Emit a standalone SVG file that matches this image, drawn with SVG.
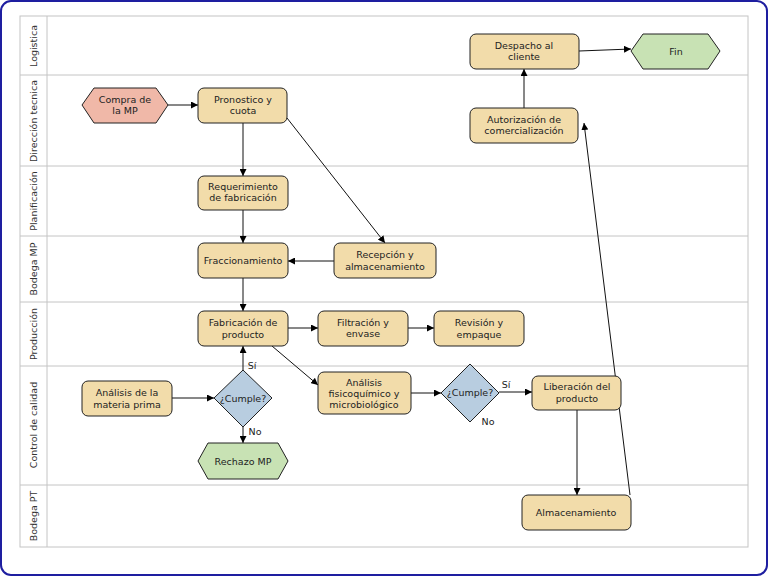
<svg xmlns="http://www.w3.org/2000/svg" width="768" height="576" viewBox="0 0 768 576">
<defs>
<marker id="a" viewBox="0 0 10 10" refX="10" refY="5" markerWidth="7" markerHeight="7" orient="auto"><path d="M0,0L10,5L0,10z" fill="#000"/></marker>
<style>
text{font-family:"DejaVu Sans",sans-serif;font-size:9.5px;fill:#222;text-anchor:middle}
.p{fill:#f2dcaa;stroke:#222;stroke-width:1}
.d{fill:#b8cde0;stroke:#222}
.g{fill:#c8e2b4;stroke:#222}
.lane{fill:none;stroke:#c4c4c4;stroke-width:1}
.c path{fill:none;stroke:#111;stroke-width:1;marker-end:url(#a)}
.lt{font-size:9.5px;fill:#333}
</style>
</defs>
<rect x="1" y="1" width="766" height="574" rx="10" fill="#fff" stroke="#1e1ea0" stroke-width="2"/>
<g id="lanes">
<rect class="lane" x="20" y="16" width="728" height="531"/>
<path class="lane" d="M47,16V547M20,75H748M20,166H748M20,236H748M20,302H748M20,366H748M20,485H748"/>
<text class="lt" transform="translate(37,46) rotate(-90)">Logistica</text>
<text class="lt" transform="translate(37,121) rotate(-90)">Dirección tecnica</text>
<text class="lt" transform="translate(37,201) rotate(-90)">Planificación</text>
<text class="lt" transform="translate(37,269) rotate(-90)">Bodega MP</text>
<text class="lt" transform="translate(37,334) rotate(-90)">Producción</text>
<text class="lt" transform="translate(37,425) rotate(-90)">Control de calidad</text>
<text class="lt" transform="translate(37,516) rotate(-90)">Bodega PT</text>
</g>
<g class="c" id="connectors">
<path d="M168,105H198"/>
<path d="M243,123V176"/>
<path d="M243,210V243"/>
<path d="M287,118L385,243"/>
<path d="M334,261H288"/>
<path d="M243,278V311"/>
<path d="M288,328H318"/>
<path d="M408,328H434"/>
<path d="M172,398H214"/>
<path d="M243,370V346"/>
<path d="M243,427V443"/>
<path d="M272,346L318,385"/>
<path d="M411,393H441"/>
<path d="M499,392H532"/>
<path d="M577,410V495"/>
<path d="M630,495L584,123"/>
<path d="M524,108V69"/>
<path d="M579,51L631,49"/>
<text x="252" y="369">Sí</text>
<text x="255" y="435">No</text>
<text x="506" y="388">Sí</text>
<text x="488" y="425">No</text>
</g>
<g id="n1"><path class="p" style="fill:#f0b8a8" d="M82,105L94,88H156L168,105L156,123H94Z"/><text x="125" y="103">Compra de</text><text x="125" y="114">la MP</text></g>
<g id="n2"><rect class="p" x="198" y="88" width="89" height="35" rx="6"/><text x="243" y="103">Pronostico y</text><text x="243" y="114">cuota</text></g>
<g id="n3"><rect class="p" x="198" y="176" width="90" height="34" rx="6"/><text x="243" y="190">Requerimiento</text><text x="243" y="201">de fabricación</text></g>
<g id="n4"><rect class="p" x="198" y="243" width="90" height="35" rx="6"/><text x="243" y="264">Fraccionamiento</text></g>
<g id="n5"><rect class="p" x="334" y="243" width="102" height="35" rx="6"/><text x="385" y="258">Recepción y</text><text x="385" y="270">almacenamiento</text></g>
<g id="n6"><rect class="p" x="198" y="311" width="90" height="35" rx="6"/><text x="243" y="326">Fabricación de</text><text x="243" y="338">producto</text></g>
<g id="n7"><rect class="p" x="318" y="311" width="90" height="35" rx="6"/><text x="363" y="326">Filtración y</text><text x="363" y="337">envase</text></g>
<g id="n8"><rect class="p" x="434" y="311" width="90" height="35" rx="6"/><text x="479" y="326">Revisión y</text><text x="479" y="338">empaque</text></g>
<g id="n9"><rect class="p" x="82" y="381" width="90" height="35" rx="6"/><text x="127" y="396">Análisis de la</text><text x="127" y="408">materia prima</text></g>
<g id="n10"><path class="d" d="M243,370L272,398L243,427L214,398Z"/><text x="243" y="402">¿Cumple?</text></g>
<g id="n11"><path class="g" d="M198,461L208,443H278L288,461L278,479H208Z"/><text x="243" y="465">Rechazo MP</text></g>
<g id="n12"><rect class="p" x="318" y="372" width="93" height="42" rx="6"/><text x="364" y="386">Análisis</text><text x="364" y="397">fisicoquímico y</text><text x="364" y="408">microbiológico</text></g>
<g id="n13"><path class="d" d="M470,364L499,393L470,422L441,393Z"/><text x="470" y="396">¿Cumple?</text></g>
<g id="n14"><rect class="p" x="532" y="376" width="89" height="34" rx="6"/><text x="577" y="390">Liberación del</text><text x="577" y="402">producto</text></g>
<g id="n15"><rect class="p" x="522" y="495" width="109" height="35" rx="6"/><text x="576" y="516">Almacenamiento</text></g>
<g id="n16"><rect class="p" x="470" y="108" width="108" height="35" rx="6"/><text x="524" y="123">Autorización de</text><text x="524" y="134">comercialización</text></g>
<g id="n17"><rect class="p" x="470" y="34" width="109" height="35" rx="6"/><text x="524" y="49">Despacho al</text><text x="524" y="60">cliente</text></g>
<g id="n18"><path class="g" d="M631,51L643,34H708L720,51L708,69H643Z"/><text x="676" y="55">Fin</text></g>
</svg>
